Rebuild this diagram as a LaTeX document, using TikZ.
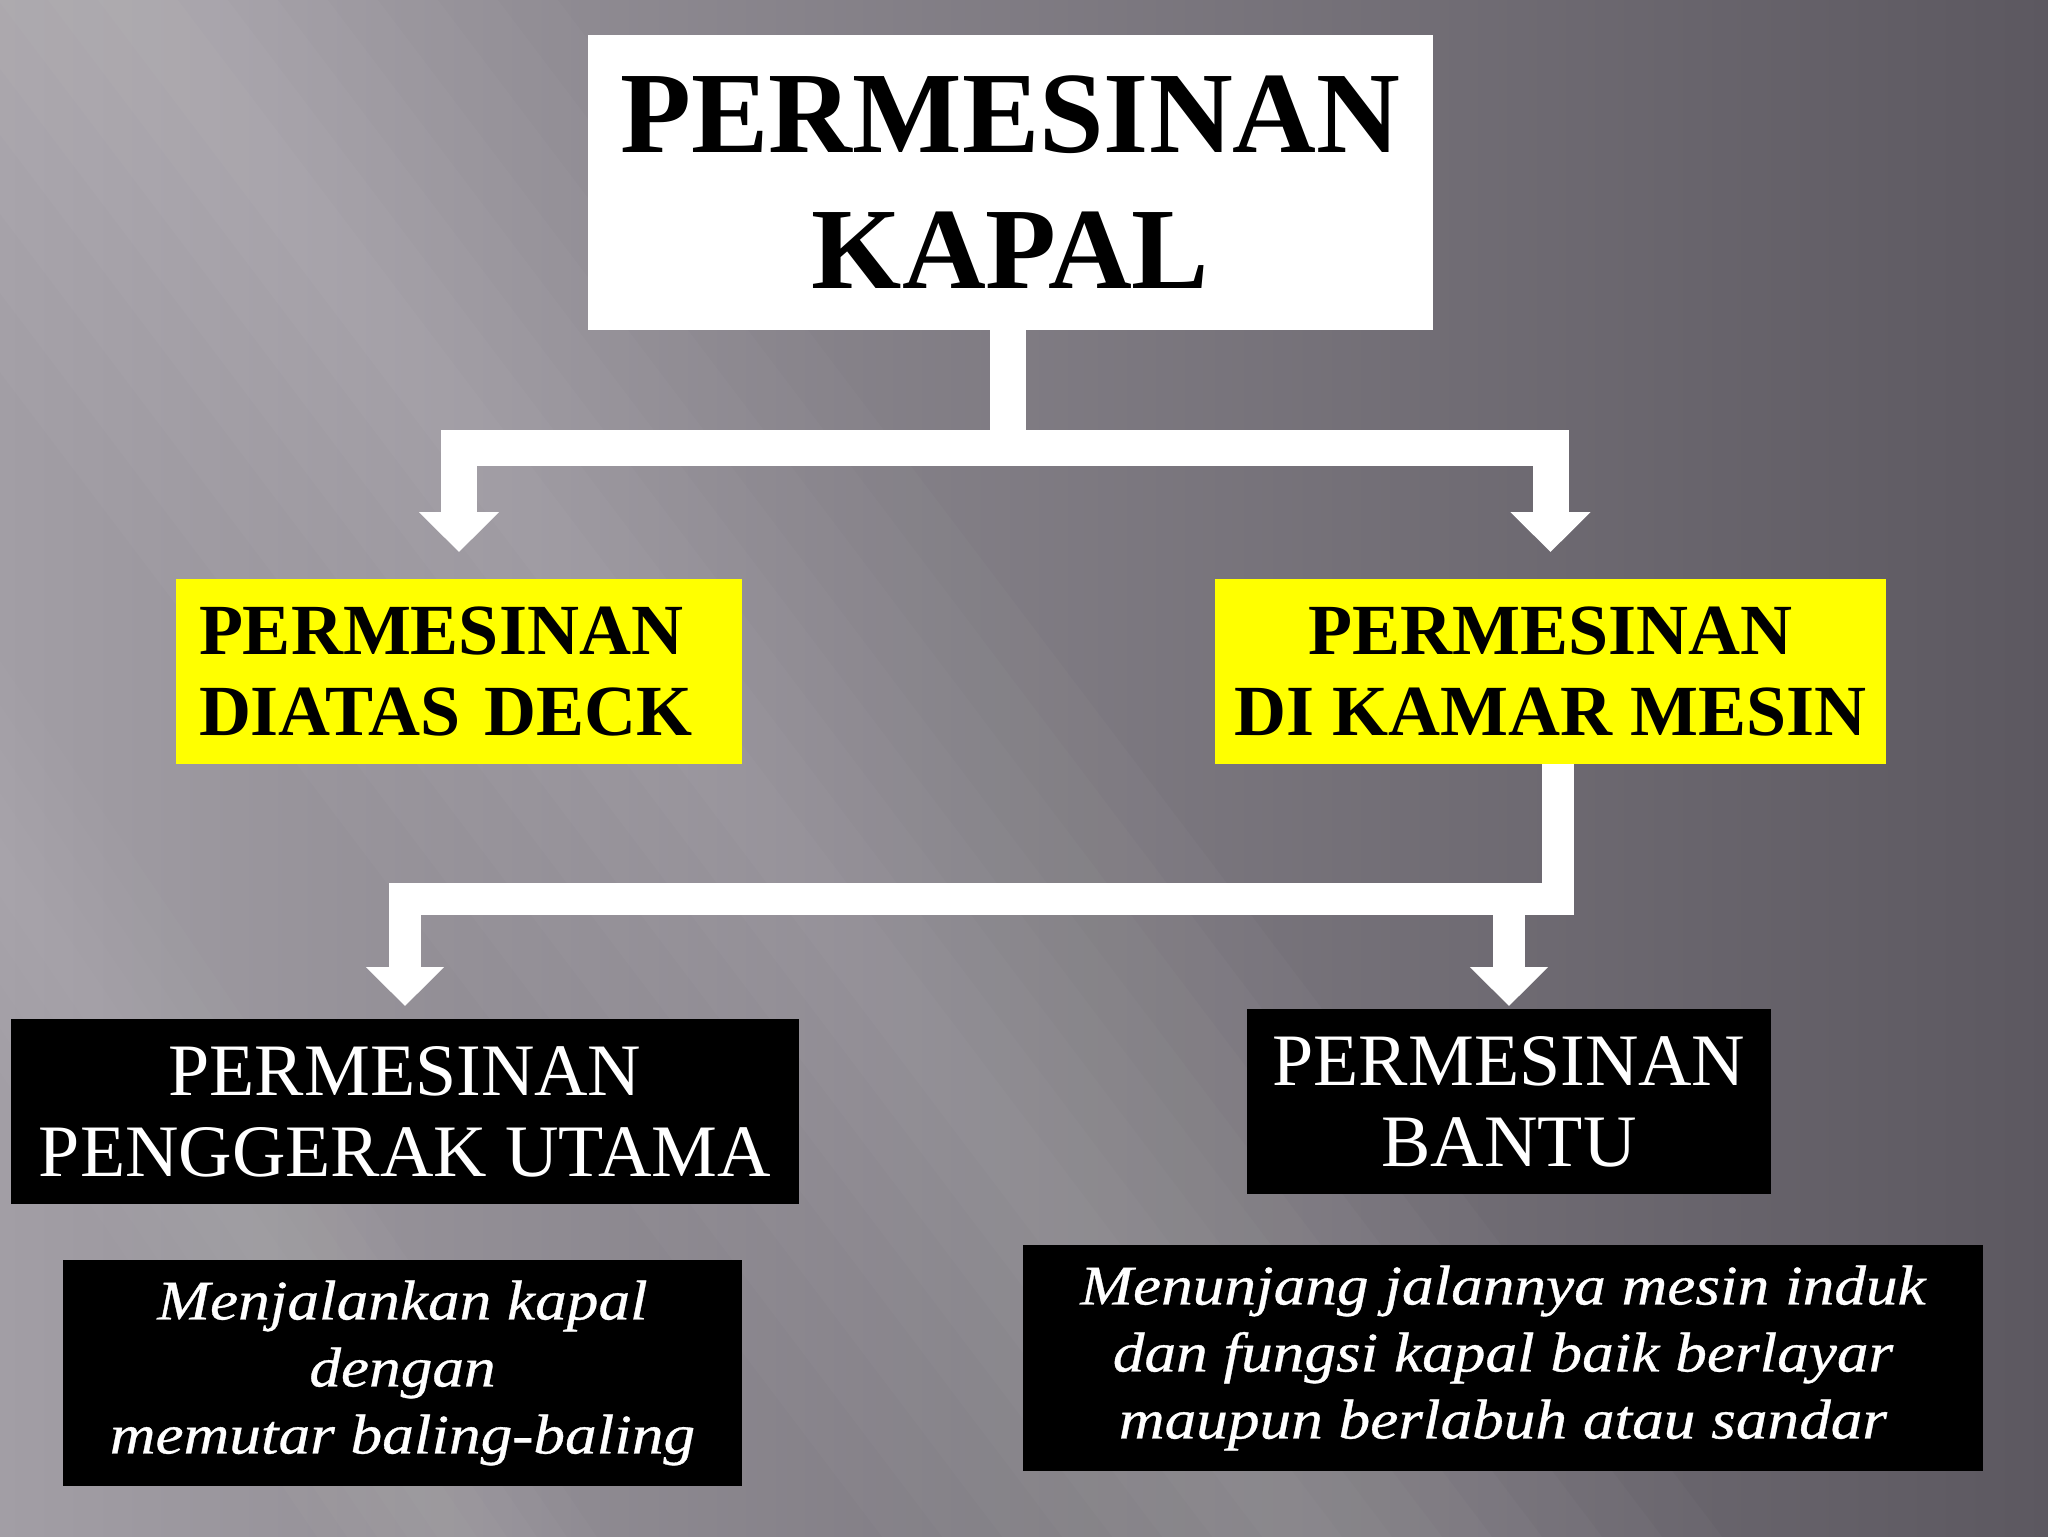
\documentclass[tikz,border=0pt]{standalone}
\usepackage{fontspec}
\setmainfont{Liberation Serif}
\newfontfamily\descfont{Liberation Serif}[FakeStretch=1.13, FakeBold=0.6]
\usetikzlibrary{arrows.meta}
\definecolor{bgL}{HTML}{A29EA5}
\definecolor{bgR}{HTML}{5C5860}
\definecolor{ylw}{HTML}{FFFF00}
\begin{document}
\begin{tikzpicture}[x=0.5pt,y=-0.5pt,
  box/.style={inner sep=0pt, outer sep=0pt, align=center},
  titlebox/.style={box, fill=white, text=black, minimum width=422.5pt, minimum height=147.5pt,
     font=\bfseries\fontsize{58}{68}\selectfont},
  ybox/.style={box, fill=ylw, text=black, minimum height=92.5pt,
     font=\bfseries\fontsize{36}{40.5}\selectfont},
  kbox/.style={box, fill=black, text=white, minimum height=92.5pt,
     font=\fontsize{37}{40.5}\selectfont},
  dbox/.style={box, fill=black, text=white, minimum height=113pt,
     font=\descfont\itshape\fontsize{28}{33.5}\selectfont},
  wline/.style={draw=white, line width=18pt, line join=miter, line cap=butt},
  warrow/.style={wline, -{Triangle[width=39pt,length=20pt]}},
  wline2/.style={draw=white, line width=16pt, line join=miter, line cap=butt},
  warrow2/.style={wline2, -{Triangle[width=38pt,length=19.5pt]}}
]
\useasboundingbox (0,0) rectangle (2048,1536);
\shade[left color=bgL, right color=bgR] (0,0) rectangle (2048,1536);
\begin{scope}
  \clip (0,0) rectangle (2048,1536);
  \foreach \w in {40,90,140,190,240,300,360,420}{
    \fill[white, opacity=0.022] (100-\w,-50) -- (100+\w,-50) -- (1350+\w,1600) -- (1350-\w,1600) -- cycle;
  }
  \foreach \w in {20,50,80,110,140}{
    \fill[white, opacity=0.02] (-250-\w,500) -- (-250+\w,500) -- (500+\w,1600) -- (500-\w,1600) -- cycle;
  }
\end{scope}

\node[titlebox] (title) at (1010.5,182.5) {PERMESINAN\\KAPAL};
\node[ybox, text width=260pt, align=left, inner xsep=11.5pt] (deck) at (459,671.5) {PERMESINAN\\DIATAS DECK};
\node[ybox, minimum width=335.5pt] (kamar) at (1550.5,671.5) {PERMESINAN\\DI KAMAR MESIN};
\node[kbox, minimum width=394pt] (utama) at (405,1111.5) {PERMESINAN\\PENGGERAK UTAMA};
\node[kbox, minimum width=262pt] (bantu) at (1509,1101.5) {PERMESINAN\\BANTU};
\node[dbox, minimum width=339.5pt] (dutama) at (402.5,1373) {Menjalankan kapal\\dengan\\memutar baling-baling};
\node[dbox, minimum width=480pt] (dbantu) at (1503,1358) {Menunjang jalannya mesin induk\\dan fungsi kapal baik berlayar\\maupun berlabuh atau sandar};

\coordinate (j1) at (1008,448);
\draw[warrow, shorten >=13.5pt] (title.south -| j1) -- (j1) -| (deck.north);
\draw[warrow, shorten >=13.5pt] (title.south -| j1) -- (j1) -| (kamar.north);

\coordinate (j2) at (1558,899);
\draw[warrow2, shorten >=6.5pt] (kamar.south -| j2) -- (j2) -| (utama.north);
\draw[warrow2, shorten >=1.5pt] (bantu.north |- j2) -- (bantu.north);
\end{tikzpicture}
\end{document}
